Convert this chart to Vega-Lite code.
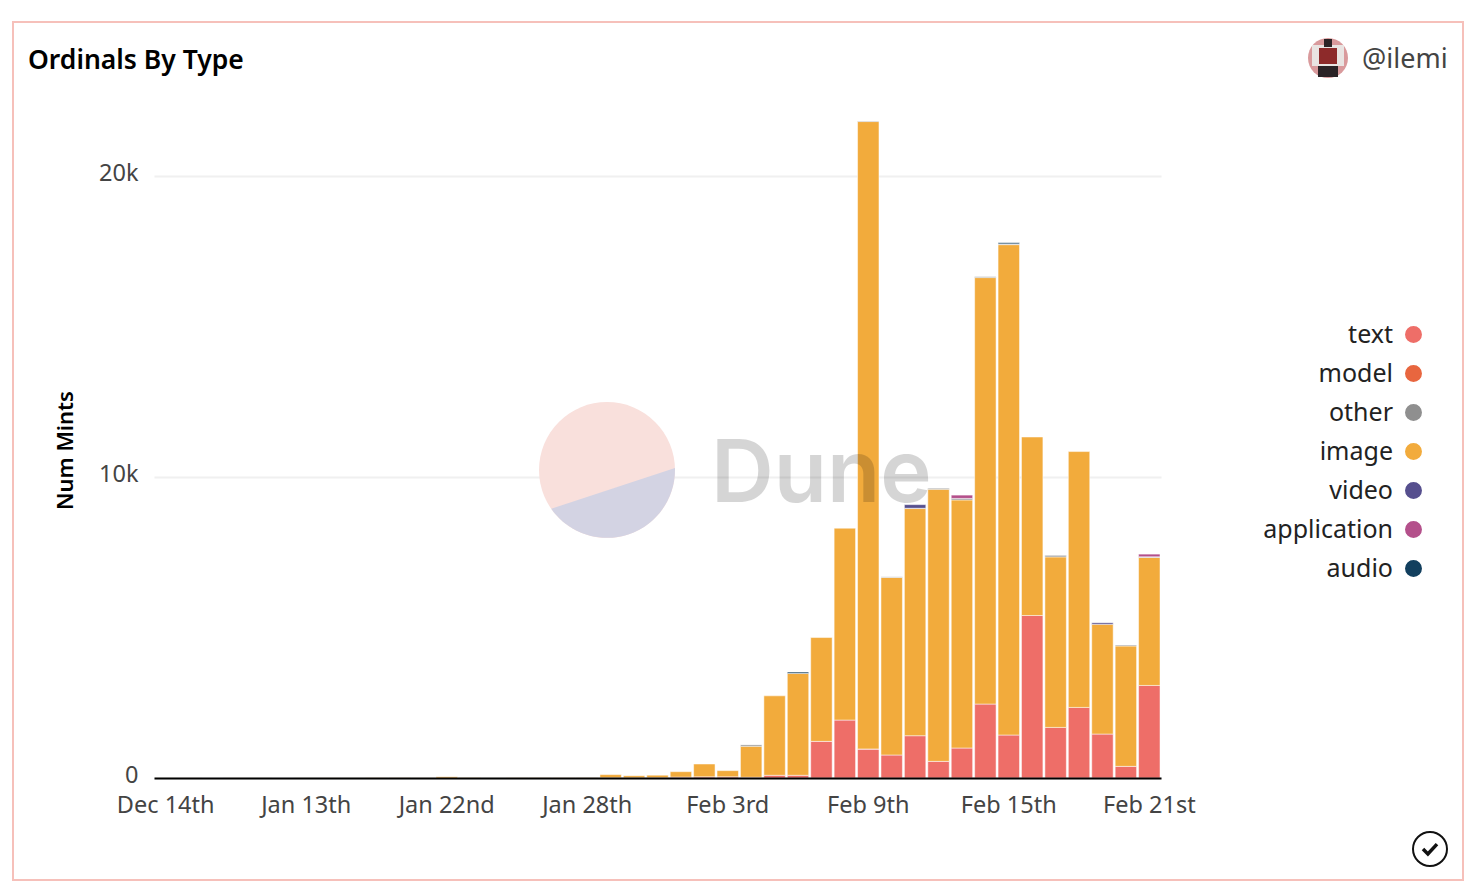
{
  "$schema": "https://vega.github.io/schema/vega-lite/v6.json",
  "width": 1007,
  "height": 657,
  "autosize": "none",
  "padding": {"left": 154, "top": 121, "right": 313, "bottom": 118},
  "background": "white",
  "title": {
    "text": "Ordinals By Type",
    "anchor": "start",
    "frame": "group",
    "align": "left",
    "dx": -126,
    "offset": -53,
    "font": "Noto Sans",
    "fontSize": 26.5,
    "fontWeight": 600,
    "color": "#000000"
  },
  "config": {"view": {"stroke": null}},
  "resolve": {"scale": {"x": "independent", "y": "independent", "color": "independent"}},
  "layer": [
    {
      "data": {"values": [
        {"day":"Dec 14th","type":"image","rank":3,"mints":3},
        {"day":"Dec 15th","type":"image","rank":3,"mints":2},
        {"day":"Dec 16th","type":"image","rank":3,"mints":2},
        {"day":"Dec 17th","type":"image","rank":3,"mints":2},
        {"day":"Dec 18th","type":"image","rank":3,"mints":3},
        {"day":"Jan 11th","type":"image","rank":3,"mints":2},
        {"day":"Jan 13th","type":"image","rank":3,"mints":3},
        {"day":"Jan 14th","type":"image","rank":3,"mints":4},
        {"day":"Jan 16th","type":"image","rank":3,"mints":3},
        {"day":"Jan 18th","type":"image","rank":3,"mints":8},
        {"day":"Jan 19th","type":"image","rank":3,"mints":6},
        {"day":"Jan 21st","type":"image","rank":3,"mints":5},
        {"day":"Jan 22nd","type":"image","rank":3,"mints":40},
        {"day":"Jan 23rd","type":"image","rank":3,"mints":12},
        {"day":"Jan 24th","type":"image","rank":3,"mints":3},
        {"day":"Jan 25th","type":"image","rank":3,"mints":8},
        {"day":"Jan 26th","type":"image","rank":3,"mints":10},
        {"day":"Jan 27th","type":"text","rank":1,"mints":5},
        {"day":"Jan 27th","type":"image","rank":3,"mints":10},
        {"day":"Jan 28th","type":"image","rank":3,"mints":10},
        {"day":"Jan 29th","type":"text","rank":1,"mints":8},
        {"day":"Jan 29th","type":"image","rank":3,"mints":105},
        {"day":"Jan 30th","type":"text","rank":1,"mints":5},
        {"day":"Jan 30th","type":"image","rank":3,"mints":70},
        {"day":"Jan 31st","type":"text","rank":1,"mints":8},
        {"day":"Jan 31st","type":"image","rank":3,"mints":85},
        {"day":"Feb 1st","type":"text","rank":1,"mints":30},
        {"day":"Feb 1st","type":"image","rank":3,"mints":180},
        {"day":"Feb 2nd","type":"text","rank":1,"mints":40},
        {"day":"Feb 2nd","type":"image","rank":3,"mints":425},
        {"day":"Feb 3rd","type":"text","rank":1,"mints":40},
        {"day":"Feb 3rd","type":"image","rank":3,"mints":205},
        {"day":"Feb 4th","type":"text","rank":1,"mints":25},
        {"day":"Feb 4th","type":"image","rank":3,"mints":1030},
        {"day":"Feb 4th","type":"other","rank":4,"mints":45},
        {"day":"Feb 5th","type":"text","rank":1,"mints":90},
        {"day":"Feb 5th","type":"image","rank":3,"mints":2640},
        {"day":"Feb 6th","type":"text","rank":1,"mints":90},
        {"day":"Feb 6th","type":"image","rank":3,"mints":3385},
        {"day":"Feb 6th","type":"audio","rank":7,"mints":45},
        {"day":"Feb 7th","type":"text","rank":1,"mints":1217},
        {"day":"Feb 7th","type":"image","rank":3,"mints":3450},
        {"day":"Feb 8th","type":"text","rank":1,"mints":1925},
        {"day":"Feb 8th","type":"image","rank":3,"mints":6375},
        {"day":"Feb 9th","type":"text","rank":1,"mints":963},
        {"day":"Feb 9th","type":"model","rank":2,"mints":3},
        {"day":"Feb 9th","type":"image","rank":3,"mints":20845},
        {"day":"Feb 9th","type":"other","rank":4,"mints":20},
        {"day":"Feb 10th","type":"text","rank":1,"mints":764},
        {"day":"Feb 10th","type":"image","rank":3,"mints":5900},
        {"day":"Feb 10th","type":"other","rank":4,"mints":20},
        {"day":"Feb 11th","type":"text","rank":1,"mints":1405},
        {"day":"Feb 11th","type":"image","rank":3,"mints":7548},
        {"day":"Feb 11th","type":"other","rank":4,"mints":10},
        {"day":"Feb 11th","type":"video","rank":5,"mints":120},
        {"day":"Feb 12th","type":"text","rank":1,"mints":553},
        {"day":"Feb 12th","type":"image","rank":3,"mints":9040},
        {"day":"Feb 12th","type":"other","rank":4,"mints":33},
        {"day":"Feb 13th","type":"text","rank":1,"mints":996},
        {"day":"Feb 13th","type":"image","rank":3,"mints":8244},
        {"day":"Feb 13th","type":"other","rank":4,"mints":50},
        {"day":"Feb 13th","type":"application","rank":6,"mints":110},
        {"day":"Feb 14th","type":"text","rank":1,"mints":2457},
        {"day":"Feb 14th","type":"image","rank":3,"mints":14170},
        {"day":"Feb 14th","type":"other","rank":4,"mints":30},
        {"day":"Feb 15th","type":"text","rank":1,"mints":1428},
        {"day":"Feb 15th","type":"image","rank":3,"mints":16294},
        {"day":"Feb 15th","type":"other","rank":4,"mints":25},
        {"day":"Feb 15th","type":"audio","rank":7,"mints":40},
        {"day":"Feb 16th","type":"text","rank":1,"mints":5400},
        {"day":"Feb 16th","type":"image","rank":3,"mints":5930},
        {"day":"Feb 17th","type":"text","rank":1,"mints":1682},
        {"day":"Feb 17th","type":"image","rank":3,"mints":5665},
        {"day":"Feb 17th","type":"other","rank":4,"mints":50},
        {"day":"Feb 18th","type":"text","rank":1,"mints":2346},
        {"day":"Feb 18th","type":"image","rank":3,"mints":8500},
        {"day":"Feb 19th","type":"text","rank":1,"mints":1460},
        {"day":"Feb 19th","type":"image","rank":3,"mints":3647},
        {"day":"Feb 19th","type":"video","rank":5,"mints":50},
        {"day":"Feb 20th","type":"text","rank":1,"mints":387},
        {"day":"Feb 20th","type":"image","rank":3,"mints":4000},
        {"day":"Feb 20th","type":"other","rank":4,"mints":30},
        {"day":"Feb 21st","type":"text","rank":1,"mints":3076},
        {"day":"Feb 21st","type":"image","rank":3,"mints":4250},
        {"day":"Feb 21st","type":"other","rank":4,"mints":25},
        {"day":"Feb 21st","type":"application","rank":6,"mints":88}
      ]},
      "mark": {"type": "bar", "stroke": "#ffffff", "strokeWidth": 0.5},
      "encoding": {
        "x": {
          "field": "day",
          "type": "ordinal",
          "sort": null,
          "scale": {"paddingInner": 0.085, "paddingOuter": 0.0425},
          "axis": {
            "title": null,
            "values": ["Dec 14th","Jan 13th","Jan 22nd","Jan 28th","Feb 3rd","Feb 9th","Feb 15th","Feb 21st"],
            "labelAngle": 0,
            "labelFont": "Noto Sans",
            "labelFontSize": 23.5,
            "labelColor": "#444444",
            "labelPadding": 15,
            "ticks": false,
            "domainColor": "#000000",
            "domainWidth": 2,
            "grid": false,
            "zindex": 1
          }
        },
        "y": {
          "field": "mints",
          "type": "quantitative",
          "scale": {"domain": [0, 21830], "nice": false},
          "axis": {
            "title": "Num Mints",
            "titleFont": "Noto Sans",
            "titleFontSize": 22,
            "titleFontWeight": 600,
            "titleColor": "#000000",
            "titleY": 329,
            "titlePadding": 21,
            "values": [0, 10000, 20000],
            "format": "~s",
            "labelExpr": "datum.value === 0 ? '0' : datum.label",
            "labelFont": "Noto Sans",
            "labelFontSize": 23.5,
            "labelColor": "#444444",
            "labelPadding": 16,
            "labelOffset": -3,
            "ticks": false,
            "domain": false,
            "grid": true,
            "gridColor": "#f0f0f0",
            "gridWidth": 2
          }
        },
        "color": {
          "field": "type",
          "type": "nominal",
          "scale": {
            "domain": ["text","model","other","image","video","application","audio"],
            "range": ["#ee6e68","#e8663f","#8f8f8f","#f2ab3c","#564f8e","#b4508b","#123f5e"]
          },
          "legend": {
            "title": null,
            "orient": "none",
            "legendX": 1247,
            "legendY": 201,
            "symbolType": "circle",
            "symbolSize": 340,
            "symbolOpacity": 1,
            "labelFont": "Noto Sans",
            "labelFontSize": 25,
            "labelColor": "#222222",
            "labelAlign": "right",
            "labelOffset": -33,
            "rowPadding": 13
          }
        },
        "order": {"field": "rank", "type": "quantitative"}
      }
    },
    {
      "data": {"values": [{"piece": "decor"}]},
      "layer": [
        {
          "mark": {"type": "rect", "filled": false, "stroke": "#f6c0ba", "strokeWidth": 2},
          "encoding": {
            "x": {"datum": 13, "scale": {"domain": [0, 1474], "range": [-154, 1320], "nice": false, "zero": false}, "axis": null},
            "x2": {"datum": 1463},
            "y": {"datum": 22, "scale": {"domain": [0, 896], "range": [-121, 775], "nice": false, "zero": false}, "axis": null},
            "y2": {"datum": 880}
          }
        },
        {
          "mark": {"type": "text", "text": "@ilemi", "align": "left", "baseline": "alphabetic", "font": "Noto Sans", "fontSize": 27, "color": "#444444"},
          "encoding": {"x": {"datum": 1362}, "y": {"datum": 68}}
        },
        {
          "mark": {"type": "point", "shape": "circle", "filled": true, "size": 18496, "color": "#f9e0dc", "opacity": 1},
          "encoding": {"x": {"datum": 607}, "y": {"datum": 470}}
        },
        {
          "mark": {"type": "point", "shape": "M0.9995,-0.03 A1,1 0 0 1 -0.82,0.57 Z", "filled": true, "size": 18496, "color": "#d3d3e3", "opacity": 1},
          "encoding": {"x": {"datum": 607}, "y": {"datum": 470}}
        },
        {
          "mark": {"type": "text", "text": "Dune", "align": "left", "baseline": "alphabetic", "font": "Inter", "fontWeight": 600, "fontSize": 87, "color": "#000000", "opacity": 0.16},
          "encoding": {"x": {"datum": 711}, "y": {"datum": 502}}
        },
        {
          "mark": {"type": "point", "shape": "circle", "filled": true, "size": 1600, "color": "#d99a9c", "opacity": 1},
          "encoding": {"x": {"datum": 1328}, "y": {"datum": 58}}
        },
        {
          "mark": {"type": "rect", "color": "#e9e4e2"},
          "encoding": {"x": {"datum": 1312}, "x2": {"datum": 1344}, "y": {"datum": 45}, "y2": {"datum": 66}}
        },
        {
          "mark": {"type": "rect", "color": "#2b2326"},
          "encoding": {"x": {"datum": 1318}, "x2": {"datum": 1338}, "y": {"datum": 66}, "y2": {"datum": 77}}
        },
        {
          "mark": {"type": "rect", "color": "#2b2326"},
          "encoding": {"x": {"datum": 1324}, "x2": {"datum": 1332}, "y": {"datum": 39}, "y2": {"datum": 47}}
        },
        {
          "mark": {"type": "rect", "color": "#8d2a2a"},
          "encoding": {"x": {"datum": 1319}, "x2": {"datum": 1337}, "y": {"datum": 48}, "y2": {"datum": 64}}
        },
        {
          "mark": {"type": "point", "shape": "circle", "filled": false, "size": 1156, "stroke": "#111111", "strokeWidth": 2, "opacity": 1},
          "encoding": {"x": {"datum": 1430}, "y": {"datum": 849}}
        },
        {
          "mark": {"type": "point", "shape": "M-1,0 L-0.3,0.7 L1,-0.7", "filled": false, "size": 196, "stroke": "#111111", "strokeWidth": 3.5, "opacity": 1},
          "encoding": {"x": {"datum": 1430}, "y": {"datum": 849}}
        }
      ]
    }
  ]
}
